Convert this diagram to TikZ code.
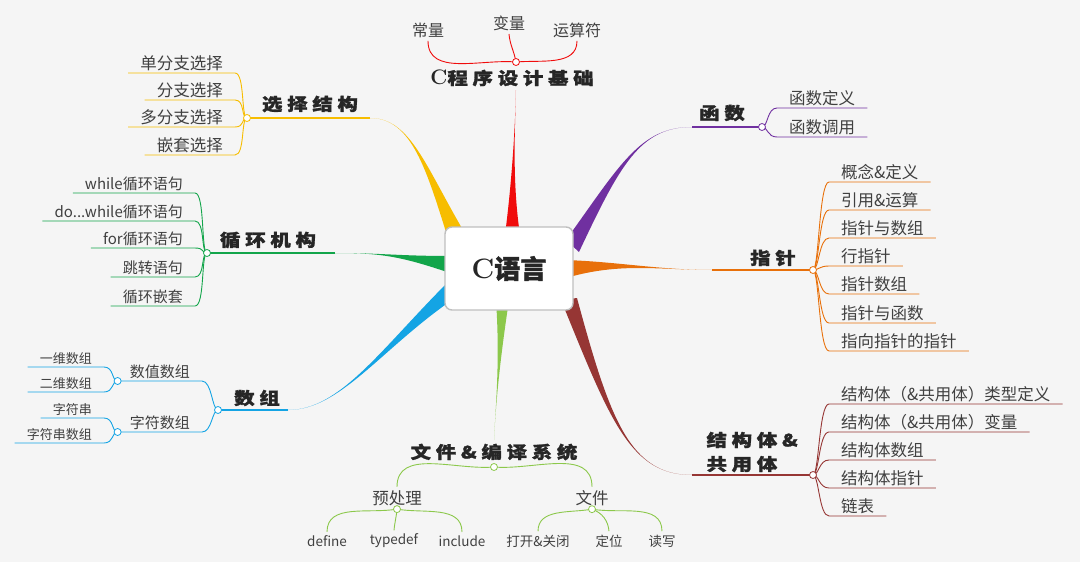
\documentclass[tikz,border=0pt]{standalone}
\usepackage{fontspec}
\usetikzlibrary{calc}
\newfontfamily\zh{Noto Sans CJK SC}
\newfontfamily\zhhead{Noto Sans CJK SC}[LetterSpace=28,FakeStretch=1.2,FakeBold=1.5]
\newfontfamily\zhbig{Noto Sans CJK SC}[FakeBold=1.5]
\definecolor{bgc}{HTML}{F5F5F5}
\definecolor{txt}{HTML}{404040}
\definecolor{cred}{HTML}{F00C0C}
\definecolor{cyel}{HTML}{F7BD00}
\definecolor{cgrn}{HTML}{12A54A}
\definecolor{cblu}{HTML}{14A4E4}
\definecolor{clgr}{HTML}{8CC84B}
\definecolor{cpur}{HTML}{7030A0}
\definecolor{corg}{HTML}{E8700A}
\definecolor{cmar}{HTML}{963634}
% tapered main branch: colour, start 1, start 2, control 1, control 2, tip
\def\branch#1#2#3#4#5#6{
\fill[#1] #2 .. controls #4 and #5 .. #6 .. controls #5 and #4 .. #3 -- cycle;
}
% leaf on the right / on the left of its junction
\def\leafR#1#2#3#4#5{
\node[leaf,anchor=south west] (#3) at #4 {#5};
\draw[#1,twig] (#2) .. controls +(6,0) and +(-10,0) .. (#3.south west) -- (#3.south east);
}
\def\leafL#1#2#3#4#5{
\node[leaf,anchor=south east] (#3) at #4 {#5};
\draw[#1,twig] (#2) .. controls +(-6,0) and +(10,0) .. (#3.south east) -- (#3.south west);
}
\def\bigC{{\normalfont\bfseries\fontsize{21}{24}\selectfont C}}

\begin{document}
\begin{tikzpicture}[x=1pt,y=-1pt,
  leaf/.style={text=txt,inner xsep=12pt,inner ysep=2pt},
  head/.style={font=\zhhead\bfseries\fontsize{17}{24}\selectfont,text=black!85},
  twig/.style={line width=0.9pt},
  stem/.style={line width=1.3pt},
  knot/.style={fill=white,line width=0.8pt}]
  \useasboundingbox (0,0) rectangle (1080,562);
  \fill[bgc] (0,0) rectangle (1080,562);

  % ends of the main branches and the junctions
  \coordinate (E0) at (516,90);
  \coordinate (E1) at (370,118);
  \coordinate (E2) at (335,253);
  \coordinate (E3) at (288,410);
  \coordinate (E4) at (494,440);
  \coordinate (E5) at (692,127);
  \coordinate (E6) at (712,270);
  \coordinate (E7) at (692,475);
  \coordinate (JA) at (516,62);
  \coordinate (JS) at (247,118);
  \coordinate (JL) at (207,253);
  \coordinate (JB) at (218,410);
  \coordinate (JF) at (494,467);
  \coordinate (JH) at (762,127);
  \coordinate (JZ) at (813,270);
  \coordinate (JM) at (813,475);

  \branch{cred}{(505,235)}{(520,235)}{(512,180)}{(515,130)}{(E0)}
  \branch{cyel}{(446,232)}{(463,230)}{(425,165)}{(410,118)}{(E1)}
  \branch{cgrn}{(450,256)}{(450,273)}{(400,256)}{(380,253)}{(E2)}
  \branch{cblu}{(450,280)}{(452,300)}{(380,350)}{(340,410)}{(E3)}
  \branch{clgr}{(496,300)}{(509,300)}{(500,360)}{(496,400)}{(E4)}
  \branch{cpur}{(566,240)}{(579,252)}{(620,165)}{(640,127)}{(E5)}
  \branch{corg}{(566,260)}{(566,278)}{(620,262)}{(660,270)}{(E6)}
  \branch{cmar}{(561,300)}{(577,298)}{(610,420)}{(630,475)}{(E7)}
  \draw[draw=cyel,stem] (E1) -- (JS);
  \draw[draw=cgrn,stem] (E2) -- (JL);
  \draw[draw=cblu,stem] (E3) -- (JB);
  \draw[draw=cpur,stem] (E5) -- (JH);
  \draw[draw=corg,stem] (E6) -- (JZ);
  \draw[draw=cmar,stem] (E7) -- (JM);

  % centre
  \node[draw=black!25,line width=1.4pt,rounded corners=7pt,fill=white,
    minimum width=128pt,minimum height=83pt,text=black!85,
    font=\zhbig\bfseries\fontsize{26}{30}\selectfont] (C0) at (509,268.5)
    {{\normalfont\bfseries\fontsize{28}{30}\selectfont C}语言};

  \node[head] (H0) at (512,78) {\bigC 程序设计基础};
  \node[head] (H1) at (310,104) {选择结构};
  \node[head] (H2) at (268,240) {循环机构};
  \node[head] (H3) at (257,398) {数组};
  \node[head] (H4) at (494,452) {文件\&编译系统};
  \node[head] (H5) at (722,113) {函数};
  \node[head] (H6) at (773,258) {指针};
  \node[head,align=left,anchor=west] (H7) at (703,452) {结构体\&\\共用体};

  % C程序设计基础
\begin{scope}[font=\zh\fontsize{16}{18}\selectfont]
  \node[text=txt] (T1) at (428,30) {常量};
  \node[text=txt] (T2) at (509,23) {变量};
  \node[text=txt] (T3) at (577,30) {运算符};
  \draw[cred,twig] (JA) to[out=175,in=-90] (T1.south);
  \draw[cred,twig] (JA) to[out=100,in=-85] (T2.south);
  \draw[cred,twig] (JA) to[out=5,in=-90] (T3.south);
\end{scope}

  % 选择结构
\begin{scope}[font=\zh\fontsize{16.5}{18}\selectfont]
  \leafL{cyel}{JS}{S1}{(235,73)}{单分支选择}
  \leafL{cyel}{JS}{S2}{(235,100)}{分支选择}
  \leafL{cyel}{JS}{S3}{(235,127)}{多分支选择}
  \leafL{cyel}{JS}{S4}{(235,155)}{嵌套选择}
\end{scope}

  % 循环机构
\begin{scope}[font=\zh\fontsize{15}{17}\selectfont]
  \leafL{cgrn}{JL}{L1}{(195,193)}{while循环语句}
  \leafL{cgrn}{JL}{L2}{(195,221)}{do...while循环语句}
  \leafL{cgrn}{JL}{L3}{(195,248)}{for循环语句}
  \leafL{cgrn}{JL}{L4}{(195,277)}{跳转语句}
  \leafL{cgrn}{JL}{L5}{(195,306)}{循环嵌套}
\end{scope}

  % 数组
\begin{scope}[font=\zh\fontsize{15}{17}\selectfont]
  \leafL{cblu}{JB}{B1}{(202,381)}{数值数组}
  \leafL{cblu}{JB}{B2}{(202,432)}{字符数组}
\end{scope}
  \coordinate (N1) at (B1.south west);
  \coordinate (N2) at (B2.south west);
\begin{scope}[font=\zh\fontsize{13}{15}\selectfont]
  \leafL{cblu}{N1}{B11}{(104,367)}{一维数组}
  \leafL{cblu}{N1}{B12}{(104,392)}{二维数组}
  \leafL{cblu}{N2}{B21}{(104,418)}{字符串}
  \leafL{cblu}{N2}{B22}{(104,443)}{字符串数组}
\end{scope}

  % 文件&编译系统
\begin{scope}[font=\zh\fontsize{16.5}{18}\selectfont]
  \node[text=txt] (F1) at (397,498) {预处理};
  \node[text=txt] (F2) at (592,498) {文件};
  \draw[clgr,twig] (JF) to[out=185,in=90] (F1.north);
  \draw[clgr,twig] (JF) to[out=-5,in=90] (F2.north);
\end{scope}
  \coordinate (JP) at (F1.south);
  \coordinate (JW) at (F2.south);
\begin{scope}[font=\zh\fontsize{13.5}{15}\selectfont]
  \node[text=txt] (F11) at (327,541) {define};
  \node[text=txt] (F12) at (394,541) {typedef};
  \node[text=txt] (F13) at (462,541) {include};
  \node[text=txt] (F21) at (538,541) {打开\&关闭};
  \node[text=txt] (F22) at (609,541) {定位};
  \node[text=txt] (F23) at (662,541) {读写};
  \draw[clgr,twig] (JP) to[out=190,in=90] (F11.north);
  \draw[clgr,twig] (JP) to[out=-95,in=85] (F12.north);
  \draw[clgr,twig] (JP) to[out=-10,in=90] (F13.north);
  \draw[clgr,twig] (JW) to[out=190,in=90] (F21.north);
  \draw[clgr,twig] (JW) to[out=-20,in=95] (F22.north);
  \draw[clgr,twig] (JW) to[out=-10,in=90] (F23.north);
\end{scope}

  % 函数, 指针, 结构体&共用体
\begin{scope}[font=\zh\fontsize{16.5}{18}\selectfont]
  \leafR{cpur}{JH}{H51}{(777,108)}{函数定义}
  \leafR{cpur}{JH}{H52}{(777,137)}{函数调用}
  \leafR{corg}{JZ}{Z1}{(829,182)}{概念\&定义}
  \leafR{corg}{JZ}{Z2}{(829,210)}{引用\&运算}
  \leafR{corg}{JZ}{Z3}{(829,238)}{指针与数组}
  \leafR{corg}{JZ}{Z4}{(829,266)}{行指针}
  \leafR{corg}{JZ}{Z5}{(829,294)}{指针数组}
  \leafR{corg}{JZ}{Z6}{(829,323)}{指针与函数}
  \leafR{corg}{JZ}{Z7}{(829,351)}{指向指针的指针}
  \leafR{cmar}{JM}{M1}{(829,404)}{结构体（\&共用体）类型定义}
  \leafR{cmar}{JM}{M2}{(829,432)}{结构体（\&共用体）变量}
  \leafR{cmar}{JM}{M3}{(829,460)}{结构体数组}
  \leafR{cmar}{JM}{M4}{(829,488)}{结构体指针}
  \leafR{cmar}{JM}{M5}{(829,516)}{链表}
\end{scope}

  % junction knots
  \draw[cred,knot] (JA) circle (3.5pt);
  \draw[cyel,knot] (JS) circle (3.5pt);
  \draw[cgrn,knot] (JL) circle (3.5pt);
  \draw[cblu,knot] (JB) circle (3.5pt);
  \draw[cblu,knot] (N1) circle (3.5pt);
  \draw[cblu,knot] (N2) circle (3.5pt);
  \draw[clgr,knot] (JF) circle (3.5pt);
  \draw[clgr,knot] (JP) circle (3.5pt);
  \draw[clgr,knot] (JW) circle (3.5pt);
  \draw[cpur,knot] (JH) circle (3.5pt);
  \draw[corg,knot] (JZ) circle (3.5pt);
  \draw[cmar,knot] (JM) circle (3.5pt);
\end{tikzpicture}
\end{document}
